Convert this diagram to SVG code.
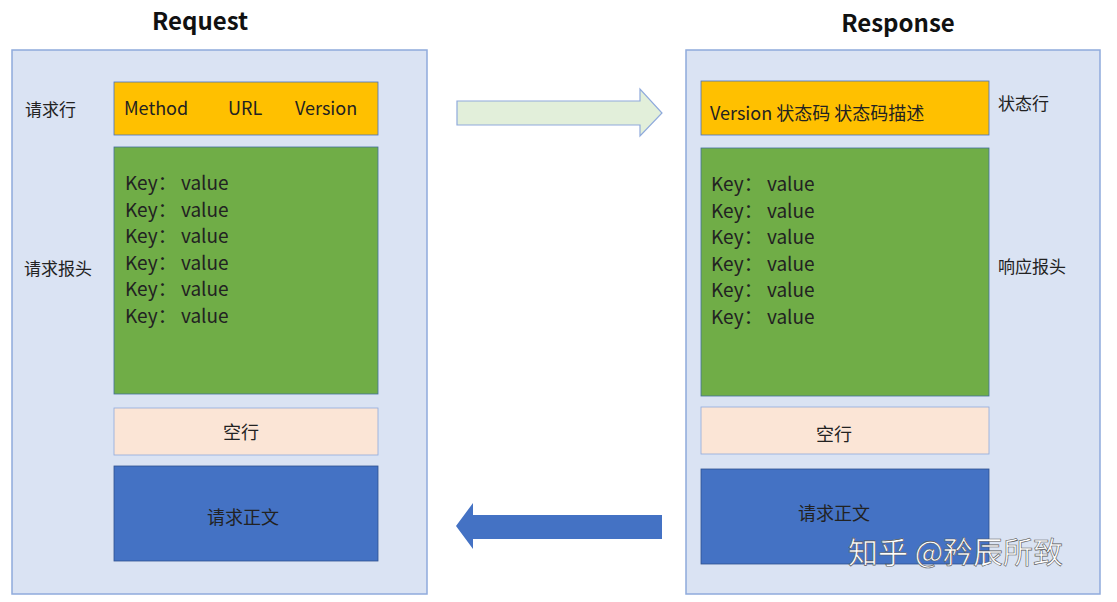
<svg xmlns="http://www.w3.org/2000/svg" width="1117" height="602" viewBox="0 0 1117 602">
<style>
text{font-family:"Noto Sans CJK SC","Liberation Sans",sans-serif;fill:#222;}
.t{font-size:24px;font-weight:bold;text-anchor:middle;fill:#111}
.panel{fill:#dae3f3;stroke:#8faadc;stroke-width:1.5}
.or{fill:#ffc000;stroke:#4472c4;stroke-width:0.8}
.gr{fill:#70ad47;stroke:#41719c;stroke-width:0.8}
.pk{fill:#fbe5d6;stroke:#8faadc;stroke-width:0.8}
.bl{fill:#4472c4;stroke:#2f528f;stroke-width:0.8}
.lb{font-size:18px}
.kv{font-size:19px}
.side{font-size:17px}
</style>
<rect width="1117" height="602" fill="#fff"/>
<text class="t" x="200" y="30">Request</text>
<text class="t" x="898" y="32">Response</text>
<g id="request">
<rect class="panel" x="12" y="50" width="415" height="544"/>
<text class="side" x="25" y="116">请求行</text>
<text class="side" x="24" y="275">请求报头</text>
<rect class="or" x="114" y="82" width="264" height="53"/>
<text class="lb" x="124" y="115">Method</text><text class="lb" x="228" y="115">URL</text><text class="lb" x="295" y="115">Version</text>
<rect class="gr" x="114" y="147" width="264" height="247"/>
<g class="kv">
<text x="125" y="190" class="kv">Key：  value</text><text x="125" y="217" class="kv">Key：  value</text><text x="125" y="243" class="kv">Key：  value</text><text x="125" y="270" class="kv">Key：  value</text><text x="125" y="296" class="kv">Key：  value</text><text x="125" y="323" class="kv">Key：  value</text>
</g>
<rect class="pk" x="114" y="408" width="264" height="47"/>
<text class="lb" x="241" y="439" text-anchor="middle">空行</text>
<rect class="bl" x="114" y="466" width="264" height="95"/>
<text class="lb" x="243" y="524" text-anchor="middle">请求正文</text>
</g>
<g id="response">
<rect class="panel" x="686" y="50" width="414" height="544"/>
<rect class="or" x="701" y="81" width="288" height="54"/>
<text class="lb" x="710" y="120">Version  状态码  状态码描述</text>
<text class="side" x="998" y="110">状态行</text>
<text class="side" x="998" y="273">响应报头</text>
<rect class="gr" x="701" y="148" width="288" height="248"/>
<text x="711" y="191" class="kv">Key：  value</text><text x="711" y="218" class="kv">Key：  value</text><text x="711" y="244" class="kv">Key：  value</text><text x="711" y="271" class="kv">Key：  value</text><text x="711" y="297" class="kv">Key：  value</text><text x="711" y="324" class="kv">Key：  value</text>
<rect class="pk" x="701" y="407" width="288" height="47"/>
<text class="lb" x="834" y="441" text-anchor="middle">空行</text>
<rect class="bl" x="701" y="469" width="288" height="95"/>
<text class="lb" x="834" y="520" text-anchor="middle">请求正文</text>
</g>
<g id="connectors">
<polygon points="457,101 640,101 640,89 662,113 640,136 640,125 457,125" fill="#e2efda" stroke="#8faadc" stroke-width="1.2"/>
<polygon points="662,515 473,515 473,503 456,526 473,549 473,539 662,539" fill="#4472c4"/>
</g>
<text x="848" y="563" font-size="30" style="fill:#fff;stroke:#555;stroke-width:0.6">知乎 @矜辰所致</text>
</svg>
